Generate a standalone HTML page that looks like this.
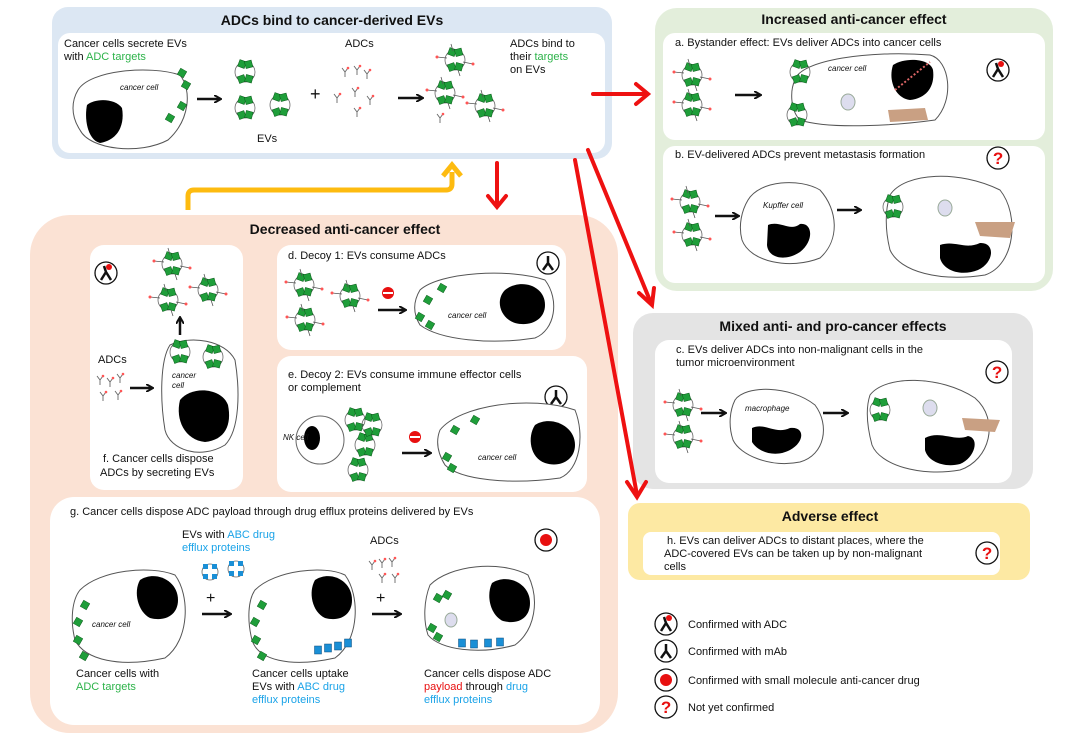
<!DOCTYPE html>
<html><head><meta charset="utf-8"><style>
html,body{margin:0;padding:0;background:#fff;}
svg{display:block;}
text{font-family:"Liberation Sans",sans-serif;fill:#111;}
.t{font-size:14px;font-weight:bold;}
.s{font-size:11px;}
.i{font-size:8px;font-style:italic;}
.g{fill:#2db34a;}
.b{fill:#1aa3e8;}
.r{fill:#e81010;}
</style></head><body>
<svg width="1080" height="741" viewBox="0 0 1080 741" xmlns="http://www.w3.org/2000/svg">
<defs>
<g id="ev">
  <circle cx="0" cy="0" r="10" fill="none" stroke="#666" stroke-width="0.8"/>
  <rect x="-9" y="-10" width="7" height="7" fill="#1f9e3a" stroke="#0a5a1a" stroke-width="0.5" transform="rotate(20)"/>
  <rect x="2" y="-10" width="7" height="7" fill="#1f9e3a" stroke="#0a5a1a" stroke-width="0.5" transform="rotate(-15)"/>
  <rect x="-9" y="2" width="7" height="7" fill="#1f9e3a" stroke="#0a5a1a" stroke-width="0.5" transform="rotate(-20)"/>
  <rect x="2" y="2" width="7" height="7" fill="#1f9e3a" stroke="#0a5a1a" stroke-width="0.5" transform="rotate(15)"/>
</g>
<g id="eva">
  <use href="#ev"/>
  <path d="M-18,-3 L-8,-2 M8,2 L18,4 M-4,-16 L-2,-9 M3,10 L5,16" stroke="#555" stroke-width="0.8"/>
  <circle cx="-18" cy="-3" r="1.5" fill="#f55"/><circle cx="18" cy="4" r="1.5" fill="#f55"/>
</g>
<g id="evb">
  <circle cx="0" cy="0" r="8" fill="none" stroke="#666" stroke-width="0.8"/>
  <rect x="-7" y="-8" width="5" height="5" fill="#1a8fd6"/><rect x="2" y="-8" width="5" height="5" fill="#1a8fd6"/>
  <rect x="-7" y="2" width="5" height="5" fill="#1a8fd6"/><rect x="2" y="2" width="5" height="5" fill="#1a8fd6"/>
</g>
<g id="adc">
  <path d="M0,0 L0,5 M0,0 L-3,-4 M0,0 L3,-4" stroke="#666" stroke-width="0.9" fill="none"/>
  <circle cx="3" cy="-4" r="1.3" fill="#f55"/>
</g>
<g id="gsq"><rect x="-3.5" y="-3.5" width="7" height="7" fill="#1f9e3a" stroke="#0a5a1a" stroke-width="0.5" transform="rotate(30)"/></g>
<g id="bsq"><rect x="-3.5" y="-4" width="7" height="8" fill="#1a8fd6" stroke="#0a4a7a" stroke-width="0.5"/></g>
<g id="iadc"><circle r="11" fill="#fff" stroke="#111" stroke-width="1.3"/><path d="M0,-1 L-5,7 M0,-1 L5,7 M0,-1 L-2,-7" stroke="#111" stroke-width="2.5" fill="none"/><circle cx="3" cy="-6" r="3" fill="#e81010"/></g>
<g id="imab"><circle r="11" fill="#fff" stroke="#111" stroke-width="1.3"/><path d="M0,0 L-5,7 M0,0 L5,7 M0,0 L0,-7" stroke="#111" stroke-width="2.5" fill="none"/></g>
<g id="idot"><circle r="11" fill="#fff" stroke="#111" stroke-width="1.3"/><circle r="6" fill="#e81010"/></g>
<g id="iq"><circle r="11" fill="#fff" stroke="#111" stroke-width="1.3"/><text x="0" y="6" text-anchor="middle" style="font-size:17px;font-weight:bold;fill:#e81010">?</text></g>
<marker id="ah" markerWidth="8" markerHeight="8" refX="6" refY="4" orient="auto" markerUnits="userSpaceOnUse"><path d="M0,0 L7,4 L0,8" fill="none" stroke="#111" stroke-width="2"/></marker>
</defs>

<!-- Top blue panel -->
<rect x="52" y="7" width="560" height="152" rx="16" fill="#dce7f3"/>
<text x="332" y="25" class="t" text-anchor="middle">ADCs bind to cancer-derived EVs</text>
<rect x="58" y="33" width="547" height="120" rx="12" fill="#fff"/>
<text x="64" y="47" class="s">Cancer cells secrete EVs</text>
<text x="64" y="60" class="s">with <tspan class="g">ADC targets</tspan></text>
<path d="M78,90 C90,70 150,65 180,75 C192,90 190,120 168,140 C140,155 90,150 80,130 C70,115 72,100 78,90Z" fill="#fff" stroke="#555"/>
<path d="M87,105 C95,98 115,98 122,108 C125,125 118,140 100,143 C88,140 84,120 87,105Z" fill="#000"/>
<text x="120" y="90" class="i">cancer cell</text>
<use href="#gsq" x="182" y="73"/><use href="#gsq" x="186" y="85"/><use href="#gsq" x="182" y="106"/><use href="#gsq" x="170" y="118"/>
<line x1="197" y1="99" x2="220" y2="99" stroke="#111" stroke-width="2.5" marker-end="url(#ah)"/>
<use href="#ev" x="245" y="72"/><use href="#ev" x="245" y="108"/><use href="#ev" x="280" y="105"/>
<text x="257" y="142" class="s">EVs</text>
<text x="310" y="100" style="font-size:18px">+</text>
<text x="345" y="47" class="s">ADCs</text>
<use href="#adc" x="345" y="72"/><use href="#adc" x="357" y="70"/><use href="#adc" x="367" y="74"/><use href="#adc" x="337" y="98"/><use href="#adc" x="355" y="92"/><use href="#adc" x="370" y="100"/><use href="#adc" x="357" y="112"/>
<line x1="398" y1="98" x2="422" y2="98" stroke="#111" stroke-width="2.5" marker-end="url(#ah)"/>
<use href="#eva" x="455" y="60"/><use href="#eva" x="445" y="93"/><use href="#eva" x="485" y="106"/>
<use href="#adc" x="440" y="118"/>
<text x="510" y="47" class="s">ADCs bind to</text>
<text x="510" y="60" class="s">their <tspan class="g">targets</tspan></text>
<text x="510" y="73" class="s">on EVs</text>

<!-- Green panel -->
<rect x="655" y="8" width="398" height="283" rx="22" fill="#e3eedb"/>
<text x="854" y="24" class="t" text-anchor="middle">Increased anti-cancer effect</text>
<rect x="663" y="33" width="382" height="107" rx="12" fill="#fff"/>
<text x="675" y="46" class="s">a. Bystander effect: EVs deliver ADCs into cancer cells</text>
<use href="#eva" x="692" y="75"/><use href="#eva" x="692" y="105"/>
<line x1="735" y1="95" x2="760" y2="95" stroke="#111" stroke-width="2.5" marker-end="url(#ah)"/>
<path d="M795,80 C800,60 870,50 930,55 C950,60 955,100 935,120 C900,125 830,130 800,120 C790,110 790,90 795,80Z" fill="#fff" stroke="#555"/>
<use href="#ev" x="800" y="72"/><use href="#ev" x="797" y="115"/>
<text x="828" y="71" class="i">cancer cell</text>
<path d="M893,65 C905,57 930,58 933,70 C935,85 928,98 910,100 C895,98 888,80 893,65Z" fill="#000"/>
<path d="M895,90 L930,62" stroke="#d66" stroke-width="2" stroke-dasharray="2,2"/>
<ellipse cx="848" cy="102" rx="7" ry="8" fill="#dde" stroke="#9a9"/>
<path d="M888,110 L925,108 L928,120 L890,122Z" fill="#c9a083"/>
<use href="#iadc" x="998" y="70"/>
<rect x="663" y="146" width="382" height="137" rx="12" fill="#fff"/>
<text x="675" y="158" class="s">b. EV-delivered ADCs prevent metastasis formation</text>
<use href="#iq" x="998" y="158"/>
<use href="#eva" x="690" y="202"/><use href="#eva" x="692" y="235"/>
<line x1="715" y1="216" x2="738" y2="216" stroke="#111" stroke-width="2.5" marker-end="url(#ah)"/>
<path d="M748,200 C760,180 800,178 820,190 C838,210 840,240 820,258 C790,270 750,262 742,240 C738,225 742,210 748,200Z" fill="#fff" stroke="#555"/>
<text x="763" y="208" class="i">Kupffer cell</text>
<path d="M768,225 C780,220 790,232 800,224 C812,222 815,240 800,252 C785,262 768,258 767,245Z" fill="#000"/>
<line x1="837" y1="210" x2="860" y2="210" stroke="#111" stroke-width="2.5" marker-end="url(#ah)"/>
<path d="M890,195 C905,172 960,170 1000,190 C1020,215 1015,265 985,275 C940,282 900,272 890,250 C885,230 885,210 890,195Z" fill="#fff" stroke="#555"/>
<use href="#ev" x="893" y="207"/>
<ellipse cx="945" cy="208" rx="7" ry="8" fill="#dde" stroke="#9a9"/>
<path d="M975,222 L1015,222 L1010,238 L980,236Z" fill="#c9a083"/>
<path d="M940,245 C955,240 965,250 980,243 C995,242 995,262 978,270 C960,277 943,270 940,258Z" fill="#000"/>

<!-- Gray panel -->
<rect x="633" y="313" width="400" height="176" rx="20" fill="#e4e4e4"/>
<text x="833" y="331" class="t" text-anchor="middle">Mixed anti- and pro-cancer effects</text>
<rect x="655" y="340" width="357" height="143" rx="14" fill="#fff"/>
<text x="676" y="353" class="s">c. EVs deliver ADCs into non-malignant cells in the</text>
<text x="676" y="366" class="s">tumor microenvironment</text>
<use href="#iq" x="997" y="372"/>
<use href="#eva" x="683" y="405"/><use href="#eva" x="683" y="437"/>
<line x1="701" y1="413" x2="725" y2="413" stroke="#111" stroke-width="2.5" marker-end="url(#ah)"/>
<path d="M735,400 C745,385 790,385 815,405 C830,425 825,455 800,462 C770,468 740,455 733,440 C728,425 730,410 735,400Z" fill="#fff" stroke="#555"/>
<text x="745" y="411" class="i">macrophage</text>
<path d="M752,428 C765,422 775,435 790,428 C805,426 805,442 790,450 C775,458 758,452 752,442Z" fill="#000"/>
<line x1="823" y1="413" x2="847" y2="413" stroke="#111" stroke-width="2.5" marker-end="url(#ah)"/>
<path d="M870,395 C885,375 940,375 975,398 C1000,420 990,460 960,470 C920,477 880,465 872,445 C868,430 865,410 870,395Z" fill="#fff" stroke="#555"/>
<use href="#ev" x="880" y="410"/>
<ellipse cx="930" cy="408" rx="7" ry="8" fill="#dde" stroke="#9a9"/>
<path d="M962,418 L1000,420 L995,432 L965,430Z" fill="#c9a083"/>
<path d="M925,438 C940,430 955,442 968,436 C980,438 975,458 960,464 C945,468 928,462 925,450Z" fill="#000"/>

<!-- Yellow panel -->
<rect x="628" y="503" width="402" height="77" rx="12" fill="#fde9a3"/>
<text x="830" y="521" class="t" text-anchor="middle">Adverse effect</text>
<rect x="643" y="532" width="357" height="43" rx="8" fill="#fff"/>
<text x="667" y="544" class="s">h. EVs can deliver ADCs to distant places, where the</text>
<text x="664" y="557" class="s">ADC-covered EVs can be taken up by non-malignant</text>
<text x="664" y="570" class="s">cells</text>
<use href="#iq" x="987" y="553"/>

<!-- Legend -->
<use href="#iadc" x="666" y="624"/><text x="688" y="628" class="s">Confirmed with ADC</text>
<use href="#imab" x="666" y="651"/><text x="688" y="655" class="s">Confirmed with mAb</text>
<use href="#idot" x="666" y="680"/><text x="688" y="684" class="s">Confirmed with small molecule anti-cancer drug</text>
<use href="#iq" x="666" y="707"/><text x="688" y="711" class="s">Not yet confirmed</text>

<!-- Peach panel -->
<rect x="30" y="215" width="588" height="518" rx="40" fill="#fbe2d4"/>
<text x="345" y="234" class="t" text-anchor="middle">Decreased anti-cancer effect</text>
<!-- f -->
<rect x="90" y="245" width="153" height="245" rx="14" fill="#fff"/>
<use href="#iadc" x="106" y="273"/>
<use href="#eva" x="172" y="264"/><use href="#eva" x="168" y="300"/><use href="#eva" x="208" y="290"/>
<line x1="180" y1="335" x2="180" y2="318" stroke="#111" stroke-width="2.5" marker-end="url(#ah)"/>
<path d="M170,345 C190,335 225,340 235,360 C240,390 240,430 225,445 C200,460 170,450 165,430 C160,400 160,360 170,345Z" fill="#fff" stroke="#555"/>
<use href="#ev" x="180" y="352"/><use href="#ev" x="213" y="357"/>
<text x="172" y="378" class="i">cancer</text><text x="172" y="388" class="i">cell</text>
<path d="M180,400 C192,385 222,388 228,405 C232,425 225,440 205,442 C185,440 175,420 180,400Z" fill="#000"/>
<text x="98" y="363" class="s">ADCs</text>
<use href="#adc" x="100" y="380"/><use href="#adc" x="110" y="382"/><use href="#adc" x="120" y="378"/><use href="#adc" x="103" y="396"/><use href="#adc" x="118" y="395"/>
<line x1="130" y1="388" x2="152" y2="388" stroke="#111" stroke-width="2.5" marker-end="url(#ah)"/>
<text x="103" y="462" class="s">f. Cancer cells dispose</text>
<text x="100" y="476" class="s">ADCs by secreting EVs</text>
<!-- d -->
<rect x="277" y="245" width="289" height="105" rx="14" fill="#fff"/>
<text x="288" y="259" class="s">d. Decoy 1: EVs consume ADCs</text>
<use href="#imab" x="548" y="263"/>
<use href="#eva" x="304" y="285"/><use href="#eva" x="350" y="296"/><use href="#eva" x="305" y="320"/>
<circle cx="388" cy="293" r="6" fill="#e81010"/><rect x="383" y="292" width="10" height="2" fill="#fff"/>
<line x1="378" y1="310" x2="405" y2="310" stroke="#111" stroke-width="2.5" marker-end="url(#ah)"/>
<path d="M420,290 C440,272 510,268 545,280 C560,300 555,330 535,338 C490,345 440,340 420,325 C412,312 414,300 420,290Z" fill="#fff" stroke="#555"/>
<use href="#gsq" x="428" y="300"/><use href="#gsq" x="442" y="288"/><use href="#gsq" x="420" y="317"/><use href="#gsq" x="430" y="325"/>
<text x="448" y="318" class="i">cancer cell</text>
<path d="M505,290 C520,278 545,285 545,305 C545,320 530,327 515,323 C500,318 495,300 505,290Z" fill="#000"/>
<!-- e -->
<rect x="277" y="356" width="310" height="136" rx="14" fill="#fff"/>
<text x="288" y="378" class="s">e. Decoy 2: EVs consume immune effector cells</text>
<text x="288" y="391" class="s">or complement</text>
<use href="#imab" x="556" y="397"/>
<circle cx="320" cy="440" r="24" fill="#fff" stroke="#666"/>
<ellipse cx="312" cy="438" rx="8" ry="12" fill="#000"/>
<text x="283" y="440" class="i">NK cell</text>
<use href="#ev" x="355" y="420"/><use href="#ev" x="365" y="445"/><use href="#ev" x="358" y="470"/><use href="#ev" x="372" y="425"/>
<circle cx="415" cy="437" r="6" fill="#e81010"/><rect x="410" y="436" width="10" height="2" fill="#fff"/>
<line x1="402" y1="453" x2="430" y2="453" stroke="#111" stroke-width="2.5" marker-end="url(#ah)"/>
<path d="M440,430 C460,405 530,395 575,410 C585,435 580,470 560,478 C510,485 460,480 445,465 C437,452 436,440 440,430Z" fill="#fff" stroke="#555"/>
<use href="#gsq" x="455" y="430"/><use href="#gsq" x="475" y="420"/><use href="#gsq" x="447" y="457"/><use href="#gsq" x="452" y="468"/>
<text x="478" y="460" class="i">cancer cell</text>
<path d="M535,425 C550,415 575,425 575,445 C575,460 560,468 545,463 C530,458 527,437 535,425Z" fill="#000"/>
<!-- g -->
<rect x="50" y="497" width="550" height="228" rx="24" fill="#fff"/>
<text x="70" y="515" class="s">g. Cancer cells dispose ADC payload through drug efflux proteins delivered by EVs</text>
<text x="182" y="538" class="s">EVs with <tspan class="b">ABC drug</tspan></text>
<text x="182" y="551" class="s b">efflux proteins</text>
<use href="#evb" x="210" y="572"/><use href="#evb" x="236" y="569"/>
<text x="206" y="603" style="font-size:16px">+</text>
<line x1="202" y1="614" x2="230" y2="614" stroke="#111" stroke-width="2.5" marker-end="url(#ah)"/>
<path d="M80,590 C100,570 150,565 175,575 C190,595 190,640 165,658 C120,668 85,660 75,640 C70,620 72,600 80,590Z" fill="#fff" stroke="#555"/>
<use href="#gsq" x="85" y="605"/><use href="#gsq" x="78" y="622"/><use href="#gsq" x="78" y="640"/><use href="#gsq" x="84" y="656"/>
<text x="92" y="627" class="i">cancer cell</text>
<path d="M140,580 C155,570 178,580 178,600 C178,615 165,622 150,618 C138,612 133,592 140,580Z" fill="#000"/>
<path d="M255,590 C275,570 325,565 345,575 C360,595 360,640 335,658 C290,668 258,660 252,640 C247,620 248,600 255,590Z" fill="#fff" stroke="#555"/>
<use href="#gsq" x="262" y="605"/><use href="#gsq" x="255" y="622"/><use href="#gsq" x="256" y="640"/><use href="#gsq" x="262" y="656"/>
<use href="#bsq" x="318" y="650"/><use href="#bsq" x="328" y="648"/><use href="#bsq" x="338" y="646"/><use href="#bsq" x="348" y="643"/>
<path d="M315,580 C330,570 352,580 352,600 C352,615 340,622 325,618 C312,612 308,592 315,580Z" fill="#000"/>
<text x="370" y="544" class="s">ADCs</text>
<use href="#adc" x="372" y="565"/><use href="#adc" x="382" y="563"/><use href="#adc" x="392" y="562"/><use href="#adc" x="382" y="578"/><use href="#adc" x="395" y="578"/>
<text x="376" y="603" style="font-size:16px">+</text>
<line x1="372" y1="614" x2="400" y2="614" stroke="#111" stroke-width="2.5" marker-end="url(#ah)"/>
<path d="M430,585 C450,565 500,560 528,575 C540,600 535,630 515,645 C480,655 440,650 428,635 C423,620 424,600 430,585Z" fill="#fff" stroke="#555"/>
<use href="#gsq" x="438" y="598"/><use href="#gsq" x="447" y="595"/><use href="#gsq" x="432" y="628"/><use href="#gsq" x="438" y="637"/>
<ellipse cx="451" cy="620" rx="6" ry="7" fill="#dde" stroke="#9a9"/>
<use href="#bsq" x="462" y="643"/><use href="#bsq" x="474" y="644"/><use href="#bsq" x="488" y="643"/><use href="#bsq" x="500" y="642"/>
<path d="M492,583 C507,573 530,583 530,603 C530,618 518,625 503,621 C490,615 486,595 492,583Z" fill="#000"/>
<use href="#idot" x="546" y="540"/>
<text x="76" y="677" class="s">Cancer cells with</text>
<text x="76" y="690" class="s g">ADC targets</text>
<text x="252" y="677" class="s">Cancer cells uptake</text>
<text x="252" y="690" class="s">EVs with <tspan class="b">ABC drug</tspan></text>
<text x="252" y="703" class="s b">efflux proteins</text>
<text x="424" y="677" class="s">Cancer cells dispose ADC</text>
<text x="424" y="690" class="s"><tspan class="r">payload</tspan> through <tspan class="b">drug</tspan></text>
<text x="424" y="703" class="s b">efflux proteins</text>

<!-- connectors -->
<path d="M188,210 L188,196 Q188,190 194,190 L446,190 Q452,190 452,184 L452,172" fill="none" stroke="#fdbb10" stroke-width="5"/>
<path d="M443,176 L452,165 L461,176" fill="none" stroke="#fdbb10" stroke-width="5"/>
<g stroke="#ee1111" stroke-width="4" fill="none" stroke-linecap="round">
<line x1="497" y1="163" x2="497" y2="206"/><path d="M488,196 L497,207 L506,196"/>
<line x1="593" y1="94" x2="646" y2="94"/><path d="M636,84 L648,94 L636,104"/>
<line x1="588" y1="150" x2="651" y2="303"/><path d="M639,293 L652,305 L654,288"/>
<line x1="575" y1="160" x2="637" y2="495"/><path d="M627,482 L637,497 L646,482"/>
</g>
</svg>
</body></html>
